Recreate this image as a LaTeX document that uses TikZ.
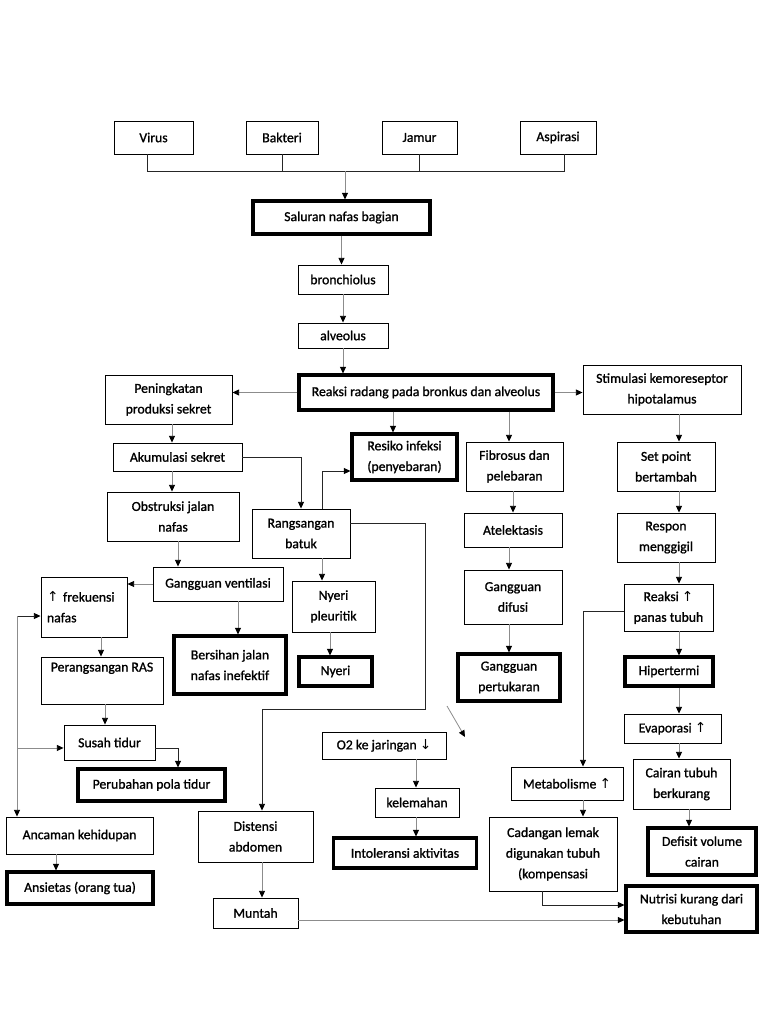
\documentclass[tikz,border=0pt]{standalone}
\usepackage{fontspec}
\setmainfont{Carlito}[FakeBold=1.2]
\newfontfamily\symfont{DejaVu Sans}
\newcommand{\arrup}{{\symfont\char"2191}}
\newcommand{\arrdown}{{\symfont\char"2193}}
\usetikzlibrary{arrows.meta}

\begin{document}
\begin{tikzpicture}[x=0.75pt, y=-0.75pt,
    >={Triangle[length=5pt, width=4.5pt, color=black]},
    box/.style={draw, line width=0.7pt, align=center, inner sep=0pt,
      font=\fontsize{10.3}{15.5}\selectfont},
    bigbox/.style={box, line width=2.3pt},
    wh/.style n args={2}{minimum width=#1*0.75pt, minimum height=#2*0.75pt},
    link/.style={->, black!45, line width=0.6pt},
    dlink/.style={->, black!85, line width=0.6pt}]
    \useasboundingbox (0,0) rectangle (768,1024);

    % Nodes
    % Causes
    \node[box, wh={79}{33}] (virus) at (153.5,137.5) {Virus};
    \node[box, wh={72}{33}] (bakteri) at (282,137.5) {Bakteri};
    \node[box, wh={75}{33}] (jamur) at (419.5,137.5) {Jamur};
    \node[box, wh={76}{33}] (aspirasi) at (558,137.5) {Aspirasi};

    % Main column
    \node[bigbox, wh={177}{33}] (saluran) at (341.5,217.5) {Saluran nafas bagian};
    \node[box, wh={90}{29}] (bronch) at (343,279.5) {bronchiolus};
    \node[box, wh={90}{25}] (alveolus) at (343,335.5) {alveolus};
    \node[bigbox, wh={254}{35}] (reaksi) at (426,392.5) {Reaksi radang pada bronkus dan alveolus};

    % Left branch
    \node[box, wh={127}{49}] (produksi) at (168.5,399.5) {Peningkatan\\produksi sekret};
    \node[box, wh={129}{28}] (akumulasi) at (177.5,457) {Akumulasi sekret};
    \node[box, wh={132}{49}] (obstruksi) at (173,516.5) {Obstruksi jalan\\nafas};
    \node[box, wh={130}{34}] (ventilasi) at (218,584) {Gangguan ventilasi};
    \node[box, wh={86}{60}, text width=55.5pt, align=left] (frekuensi) at (84,607) {\arrup{} frekuensi\\nafas};
    \node[bigbox, wh={112}{58}] (bersihan) at (230,665) {Bersihan jalan\\nafas inefektif};
    \node[box, wh={122}{47}] (perangsangan) at (102,680.5) {Perangsangan RAS\\\strut};
    \node[box, wh={91}{35}] (susah) at (109.5,742.5) {Susah tidur};
    \node[bigbox, wh={147}{32}] (perubahan) at (151.5,785) {Perubahan pola tidur};
    \node[box, wh={147}{37}] (ancaman) at (79.5,835.5) {Ancaman kehidupan};
    \node[bigbox, wh={146}{32}] (ansietas) at (80,888) {Ansietas (orang tua)};

    % Cough branch
    \node[bigbox, wh={105}{46}] (resiko) at (404.5,457) {Resiko infeksi\\(penyebaran)};
    \node[box, wh={98}{49}] (rangsangan) at (301,533.5) {Rangsangan\\batuk};
    \node[box, wh={83}{51}] (pleuritik) at (333.5,606.5) {Nyeri\\pleuritik};
    \node[bigbox, wh={73}{29}] (nyeri) at (335.5,671.5) {Nyeri};
    \node[box, wh={115}{51}] (distensi) at (255.5,836.5) {Distensi\\abdomen};
    \node[box, wh={85}{30}] (muntah) at (255.5,913) {Muntah};
    \node[box, wh={124}{27}] (o2) at (384,745.5) {O2 ke jaringan \arrdown};
    \node[box, wh={84}{29}] (kelemahan) at (417,802.5) {kelemahan};
    \node[bigbox, wh={143}{30}] (intoleransi) at (405,853) {Intoleransi aktivitas};

    % Gas exchange branch
    \node[box, wh={97}{49}] (fibrosus) at (514.5,466.5) {Fibrosus dan\\pelebaran};
    \node[box, wh={98}{34}] (atelektasis) at (513,530) {Atelektasis};
    \node[box, wh={98}{54}] (difusi) at (513,597) {Gangguan\\difusi};
    \node[bigbox, wh={102}{47}] (pertukaran) at (509,677.5) {Gangguan\\pertukaran};

    % Fever branch
    \node[box, wh={158}{49}] (stimulasi) at (662,389.5) {Stimulasi kemoreseptor\\hipotalamus};
    \node[box, wh={98}{49}] (setpoint) at (666,466.5) {Set point\\bertambah};
    \node[box, wh={98}{49}] (respon) at (666,537.5) {Respon\\menggigil};
    \node[box, wh={89}{47}] (panas) at (668.5,607.5) {Reaksi \arrup\\panas tubuh};
    \node[bigbox, wh={88}{29}] (hipertermi) at (669,671.5) {Hipertermi};
    \node[box, wh={97}{29}] (evaporasi) at (672.5,728.5) {Evaporasi \arrup};
    \node[box, wh={97}{50}] (cairan) at (681.5,784) {Cairan tubuh\\berkurang};
    \node[bigbox, wh={108}{47}] (defisit) at (702,851.5) {Defisit volume\\cairan};
    \node[box, wh={112}{33}] (metabolisme) at (567,783.5) {Metabolisme \arrup};
    \node[box, wh={128}{74}] (cadangan) at (553,854) {Cadangan lemak\\digunakan tubuh\\(kompensasi};
    \node[bigbox, wh={131}{46}] (nutrisi) at (691.5,909) {Nutrisi kurang dari\\kebutuhan};

    % Connector columns
    \coordinate (busL) at (147,171);
    \coordinate (busR) at (564,171);
    \coordinate (busM) at (345,171);
    \coordinate (lcol) at (172,0);
    \coordinate (ocol) at (178,0);
    \coordinate (vcol) at (238,0);
    \coordinate (fcol) at (101,0);
    \coordinate (pcol) at (105,0);
    \coordinate (lline) at (17,616);
    \coordinate (acol) at (56,0);
    \coordinate (rgcol) at (322,0);
    \coordinate (nycol) at (330,0);
    \coordinate (rscol) at (393,0);
    \coordinate (fbcol) at (509,0);
    \coordinate (dcol) at (262,0);
    \coordinate (loop) at (425,709);
    \coordinate (kcol) at (416,0);
    \coordinate (mcol) at (583,0);
    \coordinate (cdcol) at (542,0);
    \coordinate (rcol) at (679,0);
    \coordinate (dfcol) at (689,0);
    \coordinate (diagA) at (447,706);
    \coordinate (diagB) at (465,737);

    % Directed edges
    % Causes into the airway
    \draw[dlink, -] (virus.south -| busL) -- (busL) -- (busR) -- (busR |- aspirasi.south);
    \draw[dlink, -] (bakteri.south) -- (bakteri.south |- busL);
    \draw[dlink, -] (jamur.south) -- (jamur.south |- busL);
    \draw[link] (busM) -- (busM |- saluran.north);
    \draw[link] (saluran.south) -- (saluran.south |- bronch.north);
    \draw[link] (bronch) -- (alveolus);
    \draw[link] (alveolus.south) -- (alveolus.south |- reaksi.north);

    % Out of the inflammation
    \draw[link] (reaksi.west) -- (reaksi.west -| produksi.east);
    \draw[link] (reaksi.east) -- (reaksi.east -| stimulasi.west);
    \draw[link] (reaksi.south -| rscol) -- (resiko.north -| rscol);
    \draw[link] (reaksi.south -| fbcol) -- (fibrosus.north -| fbcol);

    % Secretion path
    \draw[link] (produksi.south -| lcol) -- (akumulasi.north -| lcol);
    \draw[link] (akumulasi.south -| lcol) -- (obstruksi.north -| lcol);
    \draw[dlink] (akumulasi.east) -| (rangsangan.north);
    \draw[link] (obstruksi.south -| ocol) -- (ventilasi.north -| ocol);
    \draw[link] (ventilasi.west) -- (ventilasi.west -| frekuensi.east);
    \draw[link] (ventilasi.south -| vcol) -- (bersihan.north -| vcol);
    \draw[link] (frekuensi.south -| fcol) -- (perangsangan.north -| fcol);
    \draw[link] (perangsangan.south -| pcol) -- (susah.north -| pcol);
    \draw[dlink] ([yshift=-4.1pt]susah.east) -| (perubahan.north -| ocol);
    \draw[dlink] (lline) -- (lline -| frekuensi.west);
    \draw[link] (lline) |- ([yshift=-4.1pt]susah.west);
    \draw[link] (lline) -- (lline |- ancaman.north);
    \draw[link] (ancaman.south -| acol) -- (ansietas.north -| acol);

    % Cough path
    \draw[dlink] (rangsangan.north -| rgcol) |- ([yshift=-10.5pt]resiko.west);
    \draw[link] (rangsangan.south -| rgcol) -- (pleuritik.north -| rgcol);
    \draw[link] (pleuritik.south -| nycol) -- (nyeri.north -| nycol);
    \draw[dlink] ([yshift=7.9pt]rangsangan.east) -| (loop) -| (distensi.north -| dcol);
    \draw[link] (distensi.south -| dcol) -- (muntah.north -| dcol);
    \draw[link] ([yshift=-5.25pt]muntah.east) -- ([yshift=-5.25pt]muntah.east -| nutrisi.west);
    \draw[link] (diagA) -- (diagB);
    \draw[link] (o2.south -| kcol) -- (kelemahan.north -| kcol);
    \draw[link] (kelemahan.south -| kcol) -- (intoleransi.north -| kcol);

    % Gas exchange path
    \draw[link] (fibrosus.south -| atelektasis.north) -- (atelektasis.north);
    \draw[link] (atelektasis.south -| fbcol) -- (difusi.north -| fbcol);
    \draw[link] (difusi.south -| fbcol) -- (pertukaran.north -| fbcol);

    % Fever path
    \draw[link] (stimulasi.south -| rcol) -- (setpoint.north -| rcol);
    \draw[link] (setpoint.south -| rcol) -- (respon.north -| rcol);
    \draw[link] (respon.south -| rcol) -- (panas.north -| rcol);
    \draw[link] (panas.south -| rcol) -- (hipertermi.north -| rcol);
    \draw[link] (hipertermi.south -| rcol) -- (evaporasi.north -| rcol);
    \draw[link] (evaporasi.south -| rcol) -- (cairan.north -| rcol);
    \draw[link] (cairan.south -| dfcol) -- (defisit.north -| dfcol);
    \draw[dlink] ([yshift=-2.6pt]panas.west) -| (metabolisme.north -| mcol);
    \draw[link] (metabolisme.south -| mcol) -- (cadangan.north -| mcol);
    \draw[dlink] (cadangan.south -| cdcol) |- ([yshift=3pt]nutrisi.west);
\end{tikzpicture}
\end{document}
